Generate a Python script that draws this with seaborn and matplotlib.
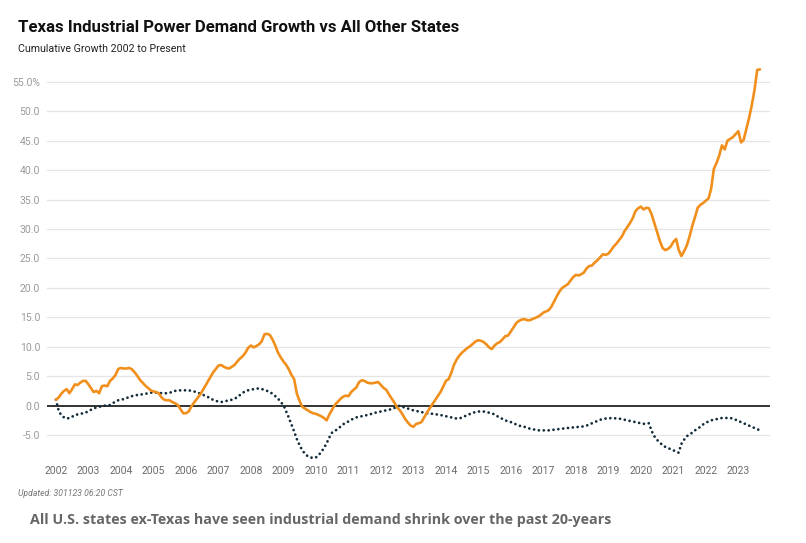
import pandas as pd
import matplotlib.pyplot as plt
import matplotlib.dates as mdates
import seaborn as sns

# cumulative growth (%) since Jan 2002, monthly
texas = [
    1.0, 1.4, 2.0, 2.5, 2.8, 2.1, 2.8, 3.6, 3.5, 3.9, 4.2, 4.2,          # 2002
    3.6, 2.9, 2.3, 2.5, 2.1, 3.3, 3.4, 3.3, 4.2, 4.6, 5.2, 6.2,          # 2003
    6.4, 6.3, 6.3, 6.4, 6.2, 5.7, 5.1, 4.4, 3.9, 3.4, 3.0, 2.6,          # 2004
    2.4, 2.3, 2.1, 1.4, 1.0, 0.9, 0.9, 0.6, 0.4, 0.1, -0.6, -1.3,        # 2005
    -1.3, -1.0, -0.2, 0.5, 1.1, 1.7, 2.4, 3.2, 4.0, 4.8, 5.6, 6.2,       # 2006
    6.8, 6.9, 6.6, 6.4, 6.3, 6.6, 6.9, 7.5, 8.0, 8.4, 9.0, 9.8,          # 2007
    10.2, 9.9, 10.1, 10.4, 10.9, 12.1, 12.2, 12.0, 11.2, 10.2, 9.0, 8.2, # 2008
    7.5, 6.9, 6.2, 5.2, 4.5, 2.0, 0.8, -0.2, -0.5, -0.8, -1.1, -1.3,     # 2009
    -1.4, -1.6, -1.8, -2.1, -2.5, -1.5, -0.7, 0.1, 0.6, 1.1, 1.5, 1.7,   # 2010
    1.6, 2.3, 2.7, 3.1, 4.0, 4.3, 4.2, 3.9, 3.8, 3.8, 3.9, 4.0,          # 2011
    3.5, 3.0, 2.7, 1.9, 1.2, 0.5, -0.3, -0.8, -1.5, -2.3, -2.9, -3.4,    # 2012
    -3.6, -3.1, -3.0, -2.8, -2.0, -1.2, -0.5, 0.2, 0.9, 1.6, 2.3, 3.2,   # 2013
    4.2, 4.5, 5.5, 6.9, 7.8, 8.5, 9.0, 9.4, 9.8, 10.1, 10.5, 10.9,       # 2014
    11.1, 11.0, 10.8, 10.4, 9.9, 9.6, 10.2, 10.6, 10.8, 11.3, 11.8, 11.9, # 2015
    12.6, 13.3, 14.0, 14.4, 14.6, 14.7, 14.5, 14.5, 14.7, 14.9, 15.1, 15.4, # 2016
    15.8, 16.0, 16.2, 16.8, 17.7, 18.6, 19.4, 20.0, 20.3, 20.6, 21.2, 21.8, # 2017
    22.2, 22.1, 22.3, 22.6, 23.3, 23.7, 23.8, 24.3, 24.7, 25.2, 25.7, 25.6, # 2018
    25.8, 26.4, 27.0, 27.5, 28.1, 28.7, 29.6, 30.3, 31.0, 31.8, 33.0, 33.5, # 2019
    33.8, 33.3, 33.6, 33.5, 32.5, 31.0, 29.5, 28.0, 26.8, 26.4, 26.6, 27.0, # 2020
    27.8, 28.3, 26.5, 25.4, 26.2, 27.2, 28.7, 30.5, 32.0, 33.6, 34.1, 34.4, # 2021
    34.8, 35.2, 36.8, 40.2, 41.2, 42.5, 44.2, 43.5, 45.0, 45.3, 45.6, 46.1, # 2022
    46.6, 44.7, 45.1, 47.0, 48.8, 51.0, 53.5, 57.0, 57.1,                   # 2023
]
other_states = [
    1.0, -0.9, -1.6, -2.0, -2.2, -2.1, -1.9, -1.6, -1.5, -1.4, -1.3, -1.2,  # 2002
    -0.9, -0.7, -0.5, -0.3, -0.2, -0.1, 0.0, 0.0, 0.1, 0.4, 0.7, 0.9,       # 2003
    1.0, 1.1, 1.3, 1.4, 1.6, 1.7, 1.8, 1.9, 1.9, 2.0, 2.1, 2.2,             # 2004
    2.2, 2.2, 2.2, 2.1, 2.1, 2.1, 2.2, 2.3, 2.5, 2.5, 2.6, 2.6,             # 2005
    2.6, 2.6, 2.5, 2.4, 2.3, 2.1, 1.9, 1.7, 1.5, 1.2, 1.0, 0.8,             # 2006
    0.7, 0.6, 0.7, 0.8, 0.9, 1.0, 1.2, 1.4, 1.8, 2.2, 2.4, 2.6,             # 2007
    2.7, 2.8, 2.9, 2.9, 2.8, 2.7, 2.5, 2.3, 2.0, 1.6, 1.2, 0.6,             # 2008
    0.1, -1.0, -2.0, -3.2, -4.4, -5.7, -6.7, -7.6, -8.2, -8.6, -8.8, -8.9,  # 2009
    -8.8, -8.4, -7.9, -7.2, -6.4, -5.4, -4.6, -4.3, -4.0, -3.6, -3.2, -2.9, # 2010
    -2.7, -2.4, -2.2, -2.0, -1.9, -1.8, -1.7, -1.6, -1.5, -1.3, -1.2, -1.1, # 2011
    -1.0, -0.9, -0.8, -0.7, -0.6, -0.4, -0.2, 0.0, -0.2, -0.4, -0.5, -0.7,  # 2012
    -0.8, -0.9, -1.0, -1.1, -1.2, -1.3, -1.3, -1.4, -1.5, -1.5, -1.6, -1.7, # 2013
    -1.8, -1.9, -2.0, -2.1, -2.2, -2.2, -2.0, -1.8, -1.6, -1.4, -1.2, -1.1, # 2014
    -1.0, -1.0, -1.0, -1.1, -1.2, -1.3, -1.5, -1.8, -2.0, -2.3, -2.5, -2.7, # 2015
    -2.8, -3.0, -3.2, -3.4, -3.5, -3.6, -3.8, -3.9, -4.0, -4.1, -4.2, -4.2, # 2016
    -4.2, -4.2, -4.2, -4.1, -4.1, -4.0, -4.0, -3.9, -3.9, -3.8, -3.8, -3.7, # 2017
    -3.7, -3.6, -3.6, -3.5, -3.4, -3.2, -3.0, -2.8, -2.6, -2.4, -2.3, -2.2, # 2018
    -2.2, -2.1, -2.1, -2.2, -2.2, -2.3, -2.4, -2.5, -2.6, -2.7, -2.8, -2.9, # 2019
    -3.0, -3.1, -3.0, -3.0, -4.3, -5.2, -5.8, -6.3, -6.7, -7.0, -7.2, -7.4, # 2020
    -7.6, -7.8, -8.0, -6.5, -5.8, -5.2, -4.9, -4.6, -4.2, -3.9, -3.6, -3.2, # 2021
    -2.9, -2.7, -2.5, -2.4, -2.3, -2.2, -2.1, -2.1, -2.1, -2.1, -2.2, -2.4, # 2022
    -2.6, -2.8, -3.0, -3.2, -3.4, -3.6, -3.8, -4.0, -4.2,                   # 2023
]
years = list(range(2002, 2024))
y_ticks = [-5, 0, 5, 10, 15, 20, 25, 30, 35, 40, 45, 50, 55]
y_labels = ['-5.0', '0.0', '5.0', '10.0', '15.0', '20.0', '25.0', '30.0',
            '35.0', '40.0', '45.0', '50.0', '55.0%']

df = pd.DataFrame({
    'date': pd.date_range('2002-01-01', periods=len(texas), freq='MS'),
    'Texas': texas,
    'Other': other_states,
})

sns.set_style('white')
plt.rcParams['font.family'] = ['Roboto', 'DejaVu Sans']

fig = plt.figure(figsize=(8.06, 5.43), dpi=100)
ax = fig.add_axes([0.0583, 0.150, 0.8967, 0.732])

# 가로 그리드 + 0 기준선
for t in y_ticks:
    if t == 0:
        continue
    ax.axhline(t, color='#e5e5e5', lw=0.9, zorder=0)
ax.axhline(0, color='#333333', lw=1.4, zorder=1)

sns.lineplot(data=df, x='date', y='Other', ax=ax, color='#112b3a', lw=2.0,
             linestyle=(0, (0.01, 1.75)), dash_capstyle='round', zorder=3)
sns.lineplot(data=df, x='date', y='Texas', ax=ax, color='#f18f1c', lw=1.9,
             zorder=4)

ax.set_xlim(pd.Timestamp('2001-09-22'), pd.Timestamp('2023-12-20'))
ax.set_ylim(-9.5, 58)
ax.set_yticks(y_ticks)
ax.set_yticklabels(y_labels)
ax.set_xticks([pd.Timestamp(f'{y}-01-01') for y in years])
ax.xaxis.set_major_formatter(mdates.DateFormatter('%Y'))
ax.tick_params(axis='y', length=0, pad=5, labelsize=7.5, labelcolor='#9a9a9a')
ax.tick_params(axis='x', length=0, pad=3, labelsize=7.5, labelcolor='#6b6b6b')
ax.set_xlabel('')
ax.set_ylabel('')
sns.despine(ax=ax, left=True, bottom=True)

fig.text(0.022, 0.950, 'Texas Industrial Power Demand Growth vs All Other States',
         fontsize=12.1, fontweight='bold', color='#111111', va='center')
fig.text(0.022, 0.910, 'Cumulative Growth 2002 to Present',
         fontsize=7.7, color='#222222', va='center')
fig.text(0.022, 0.092, 'Updated: 301123 06:20 CST', fontsize=6.2,
         style='italic', color='#777777', va='center')
fig.text(0.037, 0.042, 'All U.S. states ex-Texas have seen industrial demand shrink over the past 20-years',
         fontsize=10.3, fontweight='bold', color='#666666', va='center',
         family=['Open Sans', 'DejaVu Sans'])

plt.savefig('out.png', dpi=100)
